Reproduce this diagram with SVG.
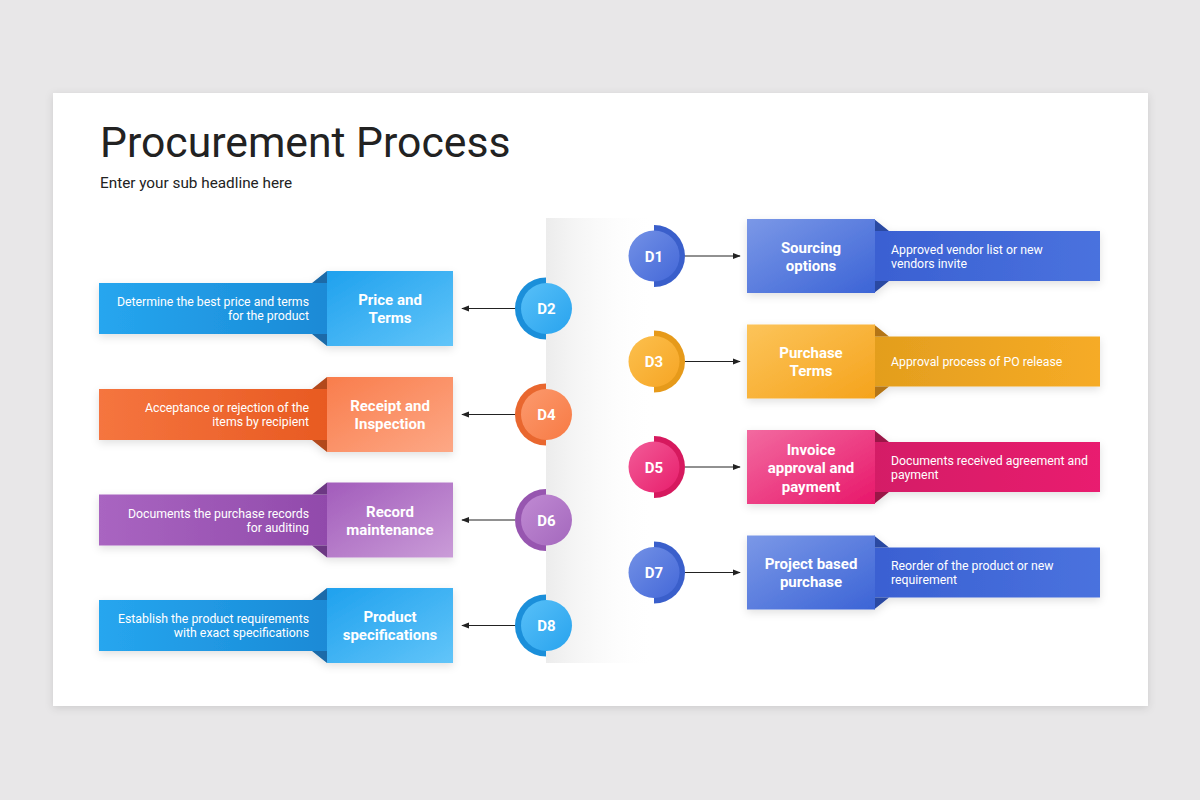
<svg xmlns="http://www.w3.org/2000/svg" width="1200" height="800" viewBox="0 0 1200 800">
<style>
.t{font-family:Roboto,"Liberation Sans",sans-serif;font-weight:700;font-size:15px;fill:#fff;text-anchor:middle}
.d{font-family:Roboto,"Liberation Sans",sans-serif;font-size:12.3px;fill:#fff}
.dl{text-anchor:end}
.c{font-family:Roboto,"Liberation Sans",sans-serif;font-weight:700;font-size:15px;fill:#fff;text-anchor:middle}
.ln{stroke:#222;stroke-width:1;fill:none}
</style>
<defs>
<filter id="card" x="-5%" y="-5%" width="110%" height="112%"><feDropShadow dx="0" dy="2" stdDeviation="4" flood-color="#000" flood-opacity="0.12"/></filter>
<filter id="sh" x="-10%" y="-20%" width="120%" height="150%"><feDropShadow dx="0" dy="3" stdDeviation="4" flood-color="#000" flood-opacity="0.12"/></filter>
<marker id="ah" viewBox="0 0 10 10" refX="9" refY="5" markerWidth="8" markerHeight="8" markerUnits="userSpaceOnUse" orient="auto"><path d="M0,1 L10,5 L0,9 z" fill="#222"/></marker>
<linearGradient id="band" x1="0" y1="0" x2="1" y2="0"><stop offset="0" stop-color="#ececec"/><stop offset="1" stop-color="#ffffff" stop-opacity="0"/></linearGradient>
<linearGradient id="tB" x1="0" y1="0" x2="1" y2="1"><stop offset="0" stop-color="#7b98e7"/><stop offset="1" stop-color="#3c64d6"/></linearGradient>
<linearGradient id="tY" x1="0" y1="0" x2="1" y2="1"><stop offset="0" stop-color="#fcc45a"/><stop offset="1" stop-color="#f5a31c"/></linearGradient>
<linearGradient id="tP" x1="0" y1="0" x2="1" y2="1"><stop offset="0" stop-color="#f26aa0"/><stop offset="1" stop-color="#e8176a"/></linearGradient>
<linearGradient id="tL" x1="0" y1="0" x2="1" y2="1"><stop offset="0" stop-color="#1fa1ee"/><stop offset="1" stop-color="#62c5f9"/></linearGradient>
<linearGradient id="tO" x1="0" y1="0" x2="1" y2="1"><stop offset="0" stop-color="#f97d4c"/><stop offset="1" stop-color="#fda886"/></linearGradient>
<linearGradient id="tV" x1="0" y1="0" x2="1" y2="1"><stop offset="0" stop-color="#a25cbb"/><stop offset="1" stop-color="#ca9cd8"/></linearGradient>
<linearGradient id="bB" x1="0" y1="0" x2="1" y2="0"><stop offset="0" stop-color="#3a60d2"/><stop offset="1" stop-color="#4a72de"/></linearGradient>
<linearGradient id="bY" x1="0" y1="0" x2="1" y2="0"><stop offset="0" stop-color="#e39e1e"/><stop offset="1" stop-color="#f6ab26"/></linearGradient>
<linearGradient id="bP" x1="0" y1="0" x2="1" y2="0"><stop offset="0" stop-color="#d41d66"/><stop offset="1" stop-color="#e91f6f"/></linearGradient>
<linearGradient id="bL" x1="0" y1="0" x2="1" y2="0"><stop offset="0" stop-color="#26a6ef"/><stop offset="1" stop-color="#1a8ad6"/></linearGradient>
<linearGradient id="bO" x1="0" y1="0" x2="1" y2="0"><stop offset="0" stop-color="#f5753f"/><stop offset="1" stop-color="#e85a22"/></linearGradient>
<linearGradient id="bV" x1="0" y1="0" x2="1" y2="0"><stop offset="0" stop-color="#a965c1"/><stop offset="1" stop-color="#914aab"/></linearGradient>
<linearGradient id="cB" x1="0" y1="0" x2="1" y2="1"><stop offset="0" stop-color="#7391e6"/><stop offset="1" stop-color="#4468d8"/></linearGradient>
<linearGradient id="cY" x1="0" y1="0" x2="1" y2="1"><stop offset="0" stop-color="#fcc04e"/><stop offset="1" stop-color="#f6a524"/></linearGradient>
<linearGradient id="cP" x1="0" y1="0" x2="1" y2="1"><stop offset="0" stop-color="#f25c98"/><stop offset="1" stop-color="#e81e6c"/></linearGradient>
<linearGradient id="cL" x1="0" y1="0" x2="1" y2="1"><stop offset="0" stop-color="#58c0f8"/><stop offset="1" stop-color="#28a3ee"/></linearGradient>
<linearGradient id="cO" x1="0" y1="0" x2="1" y2="1"><stop offset="0" stop-color="#fc9a6e"/><stop offset="1" stop-color="#f77a44"/></linearGradient>
<linearGradient id="cV" x1="0" y1="0" x2="1" y2="1"><stop offset="0" stop-color="#c08ad3"/><stop offset="1" stop-color="#a468bd"/></linearGradient>
</defs>

<rect x="0" y="0" width="1200" height="800" fill="#e8e7e8"/>
<rect x="53" y="93" width="1095" height="613" fill="#ffffff" filter="url(#card)"/>

<text x="100" y="157" font-family="Roboto,'Liberation Sans',sans-serif" font-size="42.7" fill="#222">Procurement Process</text>
<text x="100" y="188" font-family="Roboto,'Liberation Sans',sans-serif" font-size="15.3" fill="#222">Enter your sub headline here</text>

<rect x="546" y="218" width="110" height="445" fill="url(#band)"/>

<g id="connectors">
<line class="ln" x1="515" y1="308.5" x2="462" y2="308.5" marker-end="url(#ah)"/>
<line class="ln" x1="515" y1="414.5" x2="462" y2="414.5" marker-end="url(#ah)"/>
<line class="ln" x1="515" y1="520" x2="462" y2="520" marker-end="url(#ah)"/>
<line class="ln" x1="515" y1="625.5" x2="462" y2="625.5" marker-end="url(#ah)"/>
<line class="ln" x1="685" y1="256" x2="740" y2="256" marker-end="url(#ah)"/>
<line class="ln" x1="685" y1="361.5" x2="740" y2="361.5" marker-end="url(#ah)"/>
<line class="ln" x1="685" y1="467" x2="740" y2="467" marker-end="url(#ah)"/>
<line class="ln" x1="685" y1="572.5" x2="740" y2="572.5" marker-end="url(#ah)"/>
</g>

<g id="D2">
<g filter="url(#sh)">
<rect x="99" y="283" width="228" height="51" fill="url(#bL)"/>
<path d="M312,283 L327,271 L327,283 Z M312,334 L327,346 L327,334 Z" fill="#1a6aa8"/>
<rect x="327" y="271" width="126" height="75" fill="url(#tL)"/>
</g>
<text class="t" x="390" y="305"><tspan x="390">Price and</tspan><tspan x="390" dy="18">Terms</tspan></text>
<text class="d dl" x="309" y="306"><tspan x="309">Determine the best price and terms</tspan><tspan x="309" dy="14">for the product</tspan></text>
<path d="M546,277.5 A31,31 0 0 0 546,339.5 Z" fill="#1b8fda"/>
<circle cx="546.5" cy="308.5" r="25.5" fill="url(#cL)"/>
<text class="c" x="546.5" y="314">D2</text>
</g>

<g id="D4">
<g filter="url(#sh)">
<rect x="99" y="389" width="228" height="51" fill="url(#bO)"/>
<path d="M312,389 L327,377 L327,389 Z M312,440 L327,452 L327,440 Z" fill="#b24a1e"/>
<rect x="327" y="377" width="126" height="75" fill="url(#tO)"/>
</g>
<text class="t" x="390" y="411"><tspan x="390">Receipt and</tspan><tspan x="390" dy="18">Inspection</tspan></text>
<text class="d dl" x="309" y="412"><tspan x="309">Acceptance  or rejection of the</tspan><tspan x="309" dy="14">items by recipient</tspan></text>
<path d="M546,383.5 A31,31 0 0 0 546,445.5 Z" fill="#e9672f"/>
<circle cx="546.5" cy="414.5" r="25.5" fill="url(#cO)"/>
<text class="c" x="546.5" y="420">D4</text>
</g>

<g id="D6">
<g filter="url(#sh)">
<rect x="99" y="494.5" width="228" height="51" fill="url(#bV)"/>
<path d="M312,494.5 L327,482.5 L327,494.5 Z M312,545.5 L327,557.5 L327,545.5 Z" fill="#6c3883"/>
<rect x="327" y="482.5" width="126" height="75" fill="url(#tV)"/>
</g>
<text class="t" x="390" y="516.5"><tspan x="390">Record</tspan><tspan x="390" dy="18">maintenance</tspan></text>
<text class="d dl" x="309" y="517.5"><tspan x="309">Documents  the purchase records</tspan><tspan x="309" dy="14">for auditing</tspan></text>
<path d="M546,489 A31,31 0 0 0 546,551 Z" fill="#9756b0"/>
<circle cx="546.5" cy="520" r="25.5" fill="url(#cV)"/>
<text class="c" x="546.5" y="525.5">D6</text>
</g>

<g id="D8">
<g filter="url(#sh)">
<rect x="99" y="600" width="228" height="51" fill="url(#bL)"/>
<path d="M312,600 L327,588 L327,600 Z M312,651 L327,663 L327,651 Z" fill="#1a6aa8"/>
<rect x="327" y="588" width="126" height="75" fill="url(#tL)"/>
</g>
<text class="t" x="390" y="622"><tspan x="390">Product</tspan><tspan x="390" dy="18">specifications</tspan></text>
<text class="d dl" x="309" y="623"><tspan x="309">Establish the product requirements</tspan><tspan x="309" dy="14">with exact specifications</tspan></text>
<path d="M546,594.5 A31,31 0 0 0 546,656.5 Z" fill="#1b8fda"/>
<circle cx="546.5" cy="625.5" r="25.5" fill="url(#cL)"/>
<text class="c" x="546.5" y="631">D8</text>
</g>

<g id="D1">
<g filter="url(#sh)">
<rect x="874" y="231" width="226" height="50" fill="url(#bB)"/>
<path d="M874,219 L889,231 L874,231 Z M874,281 L889,281 L874,293 Z" fill="#2a48a2"/>
<rect x="747" y="219" width="128" height="74" fill="url(#tB)"/>
</g>
<text class="t" x="811" y="252.5"><tspan x="811">Sourcing</tspan><tspan x="811" dy="18">options</tspan></text>
<text class="d" x="891" y="253.5"><tspan x="891">Approved vendor list or new</tspan><tspan x="891" dy="14">vendors invite</tspan></text>
<path d="M654,225 A31,31 0 0 1 654,287 Z" fill="#3a5fcb"/>
<circle cx="654" cy="256" r="25.5" fill="url(#cB)"/>
<text class="c" x="654" y="261.5">D1</text>
</g>

<g id="D3">
<g filter="url(#sh)">
<rect x="874" y="336.5" width="226" height="50" fill="url(#bY)"/>
<path d="M874,324.5 L889,336.5 L874,336.5 Z M874,386.5 L889,386.5 L874,398.5 Z" fill="#b47512"/>
<rect x="747" y="324.5" width="128" height="74" fill="url(#tY)"/>
</g>
<text class="t" x="811" y="358"><tspan x="811">Purchase</tspan><tspan x="811" dy="18">Terms</tspan></text>
<text class="d" x="891" y="366">Approval process of PO release</text>
<path d="M654,330.5 A31,31 0 0 1 654,392.5 Z" fill="#e69a1a"/>
<circle cx="654" cy="361.5" r="25.5" fill="url(#cY)"/>
<text class="c" x="654" y="367">D3</text>
</g>

<g id="D5">
<g filter="url(#sh)">
<rect x="874" y="442" width="226" height="50" fill="url(#bP)"/>
<path d="M874,430 L889,442 L874,442 Z M874,492 L889,492 L874,504 Z" fill="#9a1447"/>
<rect x="747" y="430" width="128" height="74" fill="url(#tP)"/>
</g>
<text class="t" x="811" y="454.5"><tspan x="811">Invoice</tspan><tspan x="811" dy="18.5">approval and</tspan><tspan x="811" dy="18.5">payment</tspan></text>
<text class="d" x="891" y="464.5"><tspan x="891">Documents  received agreement and</tspan><tspan x="891" dy="14">payment</tspan></text>
<path d="M654,436 A31,31 0 0 1 654,498 Z" fill="#d6195e"/>
<circle cx="654" cy="467" r="25.5" fill="url(#cP)"/>
<text class="c" x="654" y="472.5">D5</text>
</g>

<g id="D7">
<g filter="url(#sh)">
<rect x="874" y="547.5" width="226" height="50" fill="url(#bB)"/>
<path d="M874,535.5 L889,547.5 L874,547.5 Z M874,597.5 L889,597.5 L874,609.5 Z" fill="#2a48a2"/>
<rect x="747" y="535.5" width="128" height="74" fill="url(#tB)"/>
</g>
<text class="t" x="811" y="569"><tspan x="811">Project based</tspan><tspan x="811" dy="18">purchase</tspan></text>
<text class="d" x="891" y="570"><tspan x="891">Reorder of the product or new</tspan><tspan x="891" dy="14">requirement</tspan></text>
<path d="M654,541.5 A31,31 0 0 1 654,603.5 Z" fill="#3a5fcb"/>
<circle cx="654" cy="572.5" r="25.5" fill="url(#cB)"/>
<text class="c" x="654" y="578">D7</text>
</g>
</svg>
